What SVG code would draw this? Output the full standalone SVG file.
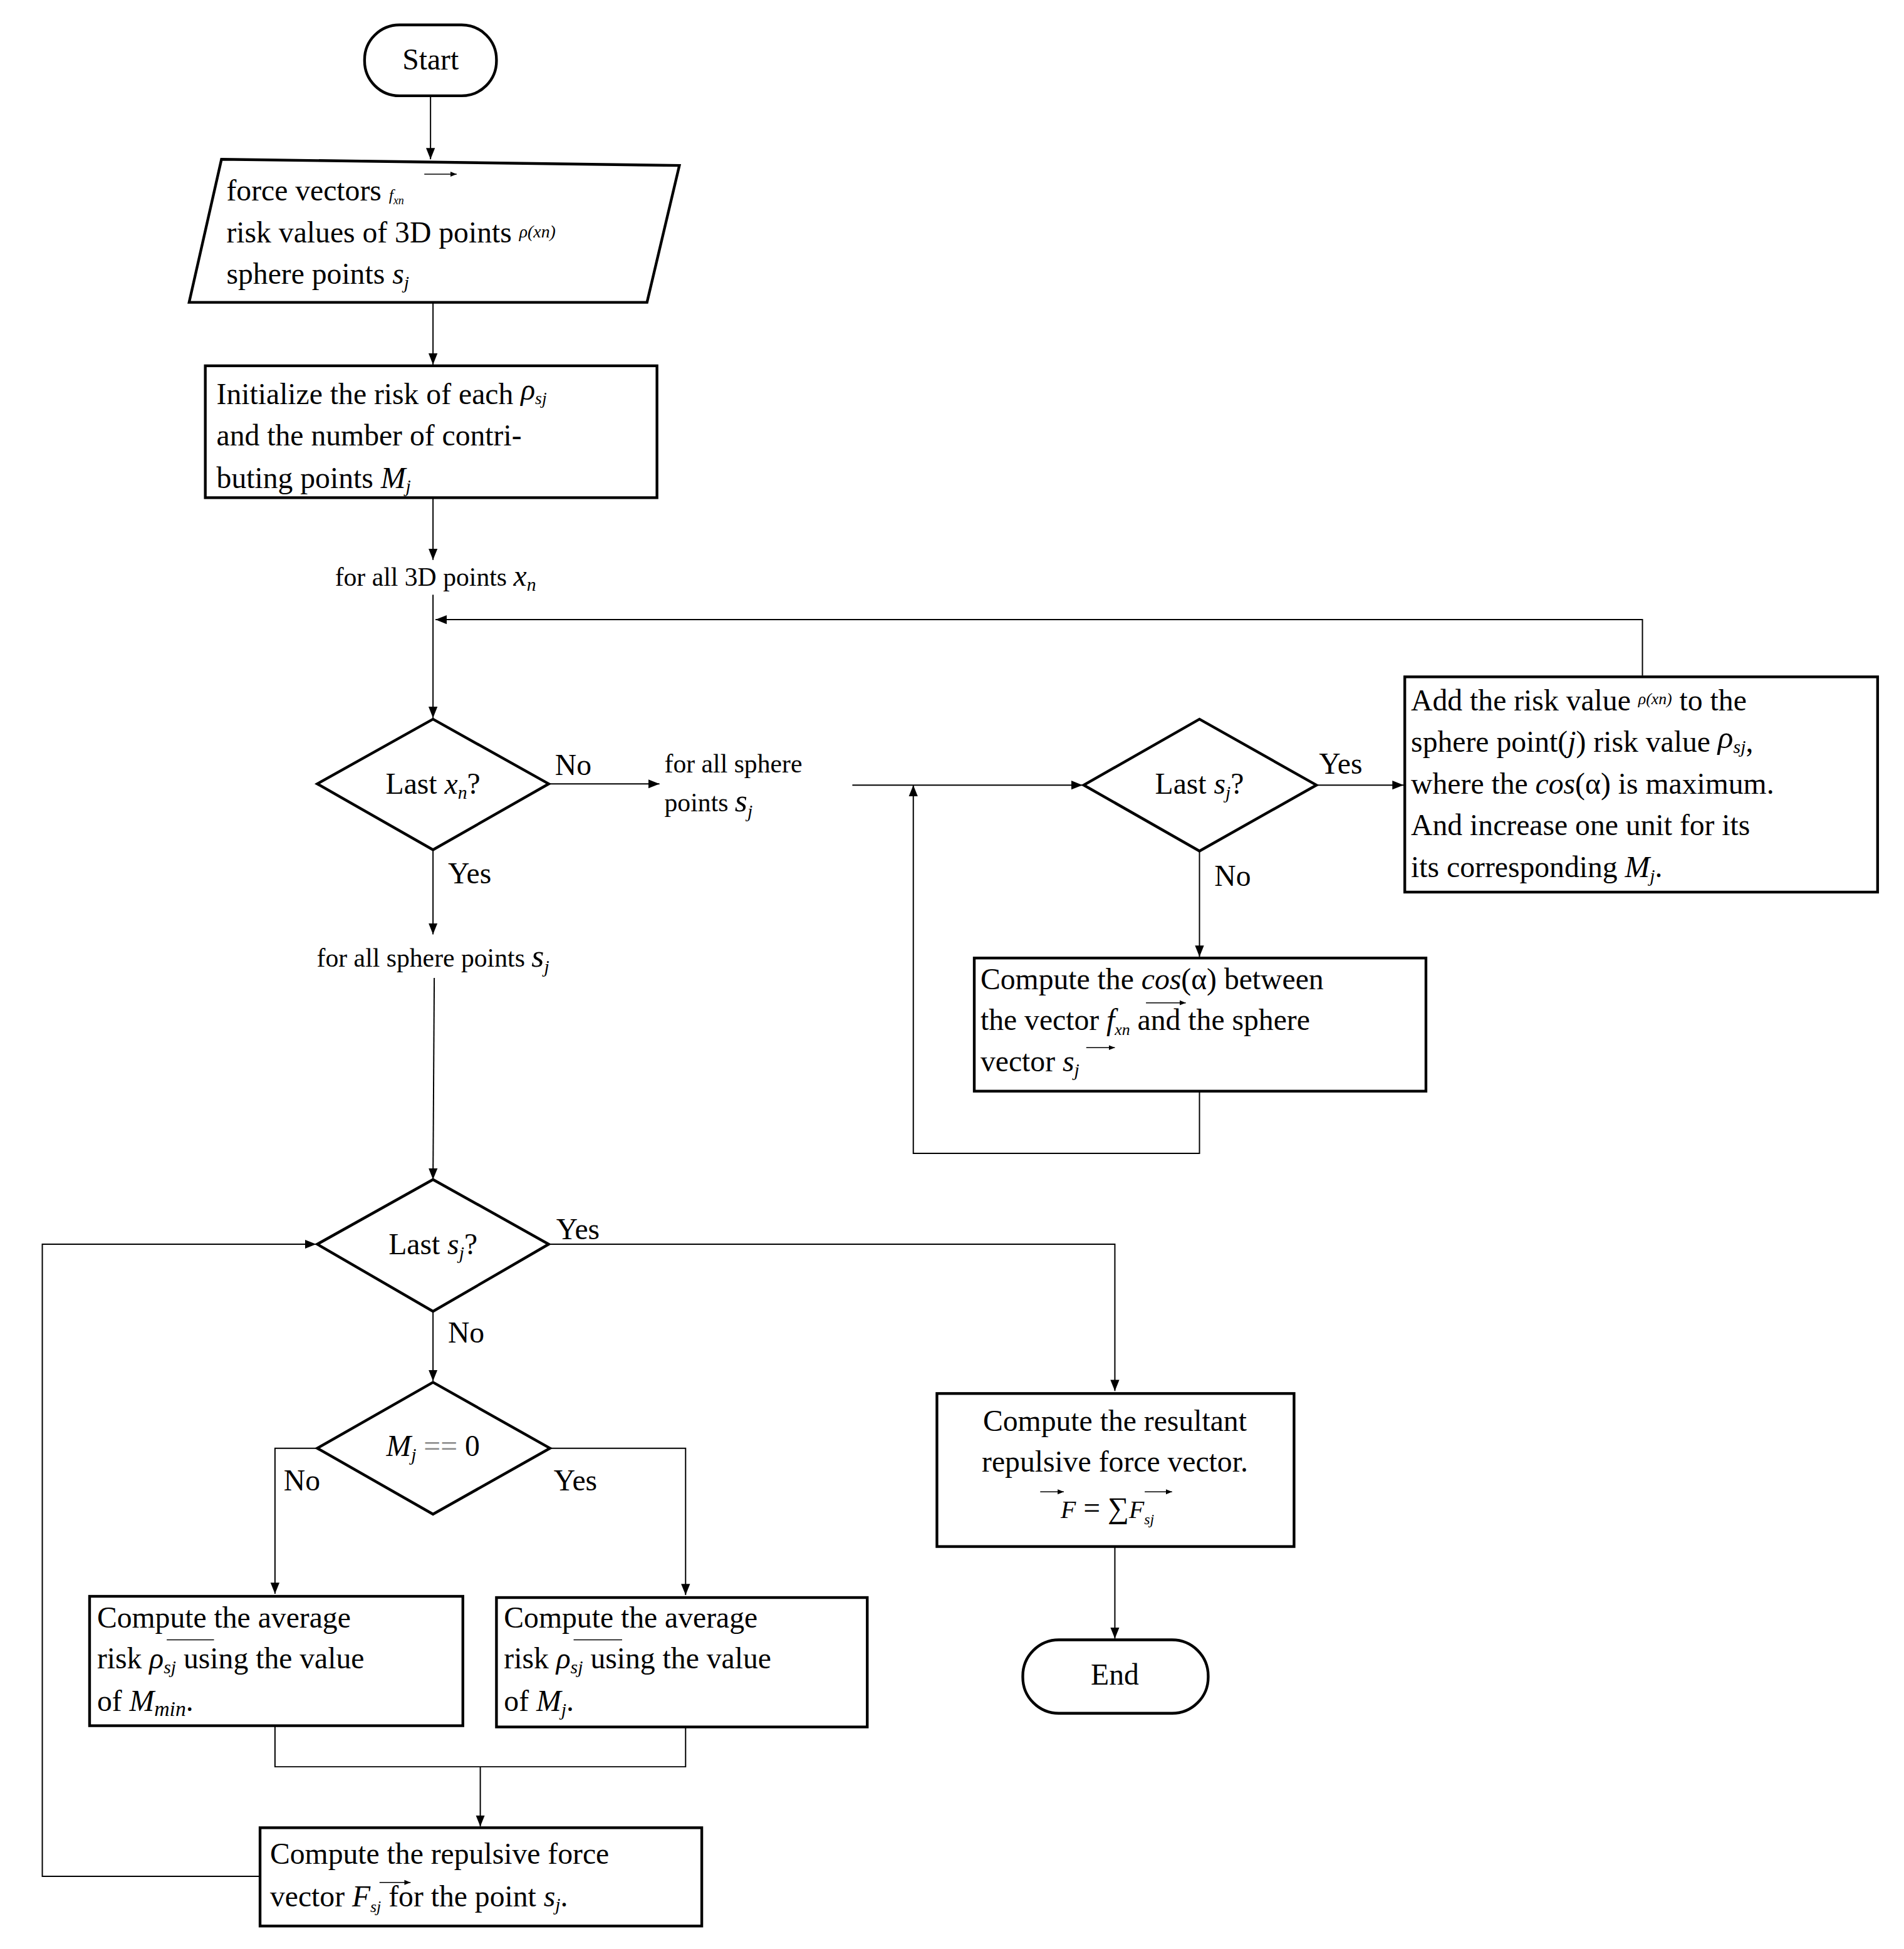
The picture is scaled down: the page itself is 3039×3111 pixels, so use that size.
<svg xmlns="http://www.w3.org/2000/svg" width="3039" height="3111" viewBox="0 0 3039 3111">
<style>
.b{fill:#fff;stroke:#000;stroke-width:2.2}
.c{fill:none;stroke:#000;stroke-width:1}
.t{font-family:"Liberation Serif",serif;font-size:24px;fill:#000}
.s{font-family:"Liberation Serif",serif;font-size:21px;fill:#000}
.i{font-style:italic}
.m{text-anchor:middle}
.v{fill:none;stroke:#000;stroke-width:0.8}
</style>
<defs>
<marker id="a" viewBox="0 0 10 10" refX="10" refY="5" markerWidth="9" markerHeight="9" markerUnits="userSpaceOnUse" orient="auto"><path d="M0,1 L10,5 L0,9 z" fill="#000"/></marker>
<marker id="sa" viewBox="0 0 10 10" refX="10" refY="5" markerWidth="5" markerHeight="5" markerUnits="userSpaceOnUse" orient="auto"><path d="M0,1 L10,5 L0,9 z" fill="#000"/></marker>
</defs>
<rect width="3039" height="3111" fill="#fff"/>
<g transform="scale(1.986)">
<g id="connectors">
<path class="c" marker-end="url(#a)" d="M346,77 V128"/>
<path class="c" marker-end="url(#a)" d="M348,243 V293"/>
<path class="c" marker-end="url(#a)" d="M348,400 V450"/>
<path class="c" marker-end="url(#a)" d="M348,478 V577"/>
<path class="c" marker-end="url(#a)" d="M1320,543 V498 H350"/>
<path class="c" marker-end="url(#a)" d="M441,630 H530"/>
<path class="c" marker-end="url(#a)" d="M685,631 H870"/>
<path class="c" marker-end="url(#a)" d="M1058,631 H1128"/>
<path class="c" marker-end="url(#a)" d="M964,684 V769"/>
<path class="c" marker-end="url(#a)" d="M964,877 V927 H734 V631"/>
<path class="c" marker-end="url(#a)" d="M348,683 V751"/>
<path class="c" marker-end="url(#a)" d="M349,786 L348,948"/>
<path class="c" marker-end="url(#a)" d="M441,1000 H896 V1118"/>
<path class="c" marker-end="url(#a)" d="M896,1243 V1317"/>
<path class="c" marker-end="url(#a)" d="M348,1054 V1110"/>
<path class="c" marker-end="url(#a)" d="M255,1164 H221 V1281"/>
<path class="c" marker-end="url(#a)" d="M442,1164 H551 V1282"/>
<path class="c" d="M221,1387 V1420 H551 V1388"/>
<path class="c" marker-end="url(#a)" d="M386,1420 V1468"/>
<path class="c" marker-end="url(#a)" d="M209,1508 H34 V1000 H254"/>
<text class="t" x="446" y="623">No</text>
<text class="t" x="1060" y="622">Yes</text>
<text class="t" x="976" y="712">No</text>
<text class="t" x="360" y="710">Yes</text>
<text class="t" x="447" y="996">Yes</text>
<text class="t" x="360" y="1079">No</text>
<text class="t" x="228" y="1198">No</text>
<text class="t" x="445" y="1198">Yes</text>
</g>
<g id="start"><rect class="b" x="293" y="20" width="106" height="57" rx="28"/><text class="t m" x="346" y="56">Start</text></g>
<g id="input">
<polygon class="b" points="178,128 546,133 520,243 152,243"/>
<text class="t" x="182" y="161">force vectors <tspan class="i" font-size="13">f</tspan><tspan class="i" font-size="9" dy="3">xn</tspan></text>
<path class="v" marker-end="url(#sa)" d="M341,140 H367"/>
<text class="t" x="182" y="195">risk values of 3D points <tspan class="i" font-size="14" dy="-4">ρ(xn)</tspan></text>
<text class="t" x="182" y="228">sphere points <tspan class="i">s</tspan><tspan class="i" font-size="15" dy="4">j</tspan></text>
</g>
<g id="init">
<rect class="b" x="165" y="294" width="363" height="106"/>
<text class="t" x="174" y="325">Initialize the risk of each <tspan class="i" dy="-4">ρ</tspan><tspan class="i" font-size="14" dy="4">sj</tspan></text>
<text class="t" x="174" y="358">and the number of contri-</text>
<text class="t" x="174" y="392">buting points <tspan class="i">M</tspan><tspan class="i" font-size="15" dy="4">j</tspan></text>
</g>
<g id="forx"><text class="s m" x="350" y="471">for all 3D points <tspan class="i" font-size="24">x</tspan><tspan class="i" font-size="15" dy="4">n</tspan></text></g>
<g id="lastx"><polygon class="b" points="255,630 348,578 441,630 348,683"/><text class="t m" x="348" y="638">Last <tspan class="i">x</tspan><tspan class="i" font-size="15" dy="4">n</tspan><tspan dy="-4">?</tspan></text></g>
<g id="fors1"><text class="s" x="534" y="621">for all sphere</text><text class="s" x="534" y="652">points <tspan class="i" font-size="26">s</tspan><tspan class="i" font-size="15" dy="5">j</tspan></text></g>
<g id="lasts1"><polygon class="b" points="871,631 964,578 1058,631 964,684"/><text class="t m" x="964" y="638">Last <tspan class="i">s</tspan><tspan class="i" font-size="15" dy="4">j</tspan><tspan dy="-4">?</tspan></text></g>
<g id="addrisk">
<rect class="b" x="1129" y="544" width="380" height="173"/>
<text class="t" x="1134" y="571">Add the risk value <tspan class="i" font-size="13" dy="-5">ρ(xn)</tspan><tspan dy="5"> to the</tspan></text>
<text class="t" x="1134" y="604">sphere point(<tspan class="i">j</tspan>) risk value <tspan class="i" font-size="26" dy="-3">ρ</tspan><tspan class="i" font-size="15" dy="4">sj</tspan><tspan dy="-1">,</tspan></text>
<text class="t" x="1134" y="638">where the <tspan class="i">cos</tspan>(α) is maximum.</text>
<text class="t" x="1134" y="671">And increase one unit for its</text>
<text class="t" x="1134" y="705">its corresponding <tspan class="i">M</tspan><tspan class="i" font-size="15" dy="4">j</tspan><tspan dy="-4">.</tspan></text>
</g>
<g id="cos">
<rect class="b" x="783" y="770" width="363" height="107"/>
<text class="t" x="788" y="795">Compute the <tspan class="i">cos</tspan>(α) between</text>
<text class="t" x="788" y="828">the vector <tspan class="i">f</tspan><tspan class="i" font-size="13" dy="4">xn</tspan><tspan dy="-4"> and the sphere</tspan></text>
<path class="v" marker-end="url(#sa)" d="M921,806 H953"/>
<text class="t" x="788" y="861">vector <tspan class="i">s</tspan><tspan class="i" font-size="15" dy="4">j</tspan></text>
<path class="v" marker-end="url(#sa)" d="M873,842 H896"/>
</g>
<g id="fors2"><text class="s m" x="348" y="777">for all sphere points <tspan class="i" font-size="26">s</tspan><tspan class="i" font-size="15" dy="5">j</tspan></text></g>
<g id="lasts2"><polygon class="b" points="255,1000 348,948 441,1000 348,1054"/><text class="t m" x="348" y="1008">Last <tspan class="i">s</tspan><tspan class="i" font-size="15" dy="4">j</tspan><tspan dy="-4">?</tspan></text></g>
<g id="resultant">
<rect class="b" x="753" y="1120" width="287" height="123"/>
<text class="t m" x="896" y="1150">Compute the resultant</text>
<text class="t m" x="896" y="1183">repulsive force vector.</text>
<text class="t m" x="890" y="1220"><tspan class="i" font-size="20">F</tspan> = ∑<tspan class="i" font-size="20">F</tspan><tspan class="i" font-size="12" dy="5">sj</tspan></text>
<path class="v" marker-end="url(#sa)" d="M836,1199 H855"/>
<path class="v" marker-end="url(#sa)" d="M920,1199 H942"/>
</g>
<g id="end"><rect class="b" x="822" y="1318" width="149" height="59" rx="29"/><text class="t m" x="896" y="1354" font-size="26">End</text></g>
<g id="mj"><polygon class="b" points="255,1164 348,1111 442,1164 348,1217"/><text class="t m" x="348" y="1170"><tspan class="i">M</tspan><tspan class="i" font-size="15" dy="4">j</tspan><tspan dy="-4" fill="#888">  ==</tspan> 0</text></g>
<g id="avgmin">
<rect class="b" x="72" y="1283" width="300" height="104"/>
<text class="t" x="78" y="1308">Compute the average</text>
<text class="t" x="78" y="1341">risk <tspan class="i">ρ</tspan><tspan class="i" font-size="15" dy="4">sj</tspan><tspan dy="-4"> using the value</tspan></text>
<path class="v" d="M134,1318 H172" stroke-width="1.2"/>
<text class="t" x="78" y="1375">of  <tspan class="i">M</tspan><tspan class="i" font-size="17" dy="4">min</tspan><tspan dy="-4">.</tspan></text>
</g>
<g id="avgmj">
<rect class="b" x="399" y="1284" width="298" height="104"/>
<text class="t" x="405" y="1308">Compute the average</text>
<text class="t" x="405" y="1341">risk <tspan class="i">ρ</tspan><tspan class="i" font-size="15" dy="4">sj</tspan><tspan dy="-4"> using the value</tspan></text>
<path class="v" d="M461,1318 H500" stroke-width="1.2"/>
<text class="t" x="405" y="1375">of  <tspan class="i">M</tspan><tspan class="i" font-size="15" dy="4">j</tspan><tspan dy="-4">.</tspan></text>
</g>
<g id="repulsive">
<rect class="b" x="209" y="1469" width="355" height="79"/>
<text class="t" x="217" y="1498">Compute the repulsive force</text>
<text class="t" x="217" y="1532">vector <tspan class="i">F</tspan><tspan class="i" font-size="13" dy="5">sj</tspan><tspan dy="-5">  for the point </tspan><tspan class="i">s</tspan><tspan class="i" font-size="15" dy="4">j</tspan><tspan dy="-4">.</tspan></text>
<path class="v" marker-end="url(#sa)" d="M305,1513 H330"/>
</g>
</g>
</svg>
